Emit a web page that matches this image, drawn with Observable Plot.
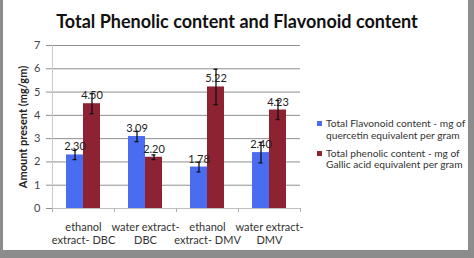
<!DOCTYPE html>
<html><head><meta charset="utf-8">
<script src="https://cdn.jsdelivr.net/npm/d3@7"></script>
<script src="https://cdn.jsdelivr.net/npm/@observablehq/plot@0.6"></script>
<style>
html,body{margin:0;padding:0;background:#fff;}
#wrap{position:relative;width:474px;height:258px;overflow:hidden;background:#fff;font-family:Lato,"Open Sans",sans-serif;}
#title{position:absolute;left:0;top:11px;width:474px;text-align:center;font-weight:bold;font-size:18px;color:#111;line-height:20px;}
#chart{position:absolute;left:0;top:38px;}
#legend{position:absolute;left:317px;top:118px;font-size:10.2px;color:#333;line-height:11.5px;}
.li{position:relative;padding-left:9px;margin-bottom:6.5px;white-space:nowrap;}
.sw{position:absolute;left:0;top:3px;width:5px;height:5px;}
.bd{position:absolute;background:#8c8c8c;}
svg [aria-label="y-axis label"] text{font-weight:bold;fill:#222;}
</style></head>
<body><div id="wrap"><div id="title"></div><div id="chart"></div><div id="legend"></div>
<div class="bd" style="left:0;top:0;width:3px;height:258px"></div>
<div class="bd" style="right:0;top:0;width:6px;height:258px"></div>
<div class="bd" style="left:0;bottom:0;width:474px;height:8px"></div>
</div>
<script>
const titleText = "Total Phenolic content and Flavonoid content";
const yLabel = "Amount present (mg/gm)";
const categories = ["ethanol\nextract- DBC", "water extract-\nDBC", "ethanol\nextract- DMV", "water extract-\nDMV"];
const seriesNames = ["Total Flavonoid content - mg of\nquercetin equivalent per gram", "Total phenolic content - mg of\nGallic acid equivalent per gram"];
const seriesColors = ["#4a6cf0", "#8d2233"];
const flavonoid = [2.30, 3.09, 1.78, 2.40];
const flavonoidErr = [0.20, 0.22, 0.21, 0.44];
const phenolic = [4.50, 2.20, 5.22, 4.23];
const phenolicErr = [0.43, 0.10, 0.76, 0.41];
const yTicks = [0, 1, 2, 3, 4, 5, 6, 7];

document.getElementById("title").textContent = titleText;
const leg = document.getElementById("legend");
seriesNames.forEach((s, i) => {
  const d = document.createElement("div"); d.className = "li";
  const sw = document.createElement("span"); sw.className = "sw"; sw.style.background = seriesColors[i];
  d.appendChild(sw);
  s.split("\n").forEach((t, j) => { if (j) d.appendChild(document.createElement("br")); d.appendChild(document.createTextNode(t)); });
  leg.appendChild(d);
});

const rows = [];
categories.forEach((c, i) => {
  rows.push({cat: c, series: seriesNames[0], value: flavonoid[i], err: flavonoidErr[i]});
  rows.push({cat: c, series: seriesNames[1], value: phenolic[i], err: phenolicErr[i]});
});

const chart = Plot.plot({
  width: 474, height: 212,
  marginLeft: 52, marginRight: 174, marginTop: 7, marginBottom: 42,
  style: {fontFamily: "Lato, 'Open Sans', sans-serif", fontSize: "11px", color: "#333", background: "transparent"},
  fx: {domain: categories, padding: 0, label: null},
  x: {domain: seriesNames, paddingInner: 0, paddingOuter: 0.75, axis: null},
  y: {domain: [0, 7], label: null},
  color: {domain: seriesNames, range: seriesColors},
  marks: [
    Plot.ruleY(yTicks.slice(1), {stroke: "#8f8f8f", strokeWidth: 1}),
    Plot.axisY({ticks: yTicks, tickFormat: d3.format("d"), tickSize: 6, tickPadding: 6, stroke: "#8f8f8f", fill: "#444", label: yLabel, labelAnchor: "center", labelArrow: "none", labelOffset: 33, fontSize: 11}),
    Plot.ruleX([categories[0]], {fx: d => d, x: null, dx: -31, y1: 0, y2: 7, stroke: "#c8c8c8"}),
    Plot.barY(rows, {fx: "cat", x: "series", y: "value", fill: "series"}),
    Plot.ruleY(categories, {fx: d => d, y: 0, stroke: "#c0c0c0"}),
    Plot.ruleX(categories, {fx: d => d, x: null, dx: -31, y1: 0, y2: 0, insetBottom: -4, stroke: "#b0b0b0"}),
    Plot.ruleX([categories[categories.length - 1]], {fx: d => d, x: null, dx: 31, y1: 0, y2: 0, insetBottom: -4, stroke: "#b0b0b0"}),
    Plot.ruleX(rows, {fx: "cat", x: "series", y1: d => d.value - d.err, y2: d => d.value + d.err, stroke: "#111", strokeWidth: 1.3}),
    Plot.tickY(rows, {fx: "cat", x: "series", y: d => d.value - d.err, stroke: "#111", strokeWidth: 1.3, insetLeft: 6.5, insetRight: 6.5}),
    Plot.tickY(rows, {fx: "cat", x: "series", y: d => d.value + d.err, stroke: "#111", strokeWidth: 1.3, insetLeft: 6.5, insetRight: 6.5}),
    Plot.text(rows, {fx: "cat", x: "series", y: "value", text: d => d.value.toFixed(2), dy: -8, fontSize: 11, fill: "#222"}),
    Plot.axisFx({anchor: "bottom", tickSize: 0, tickPadding: 13, lineHeight: 1.2, fontSize: 11, fill: "#333", label: null})
  ]
});
document.getElementById("chart").appendChild(chart);
</script></body></html>
